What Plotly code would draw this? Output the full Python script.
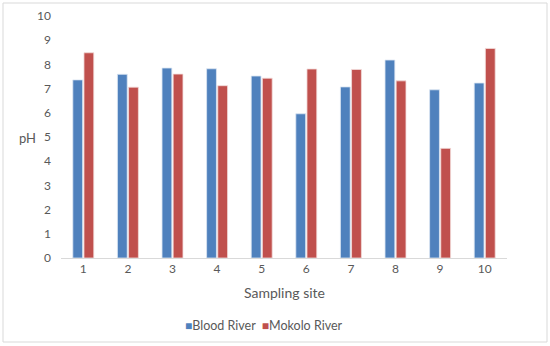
import plotly.graph_objects as go

sites = ["1", "2", "3", "4", "5", "6", "7", "8", "9", "10"]
blood_river = [7.36, 7.59, 7.85, 7.82, 7.52, 5.96, 7.07, 8.18, 6.95, 7.23]
mokolo_river = [8.48, 7.06, 7.60, 7.12, 7.43, 7.81, 7.79, 7.32, 4.53, 8.66]
y_ticks = list(range(0, 11))

blue, red = "#4F81BD", "#C0504D"
font_family = "Lato, Open Sans, Liberation Sans, sans-serif"
text_color = "#595959"

fig = go.Figure()
fig.add_trace(go.Bar(x=sites, y=blood_river, name="Blood River",
                     marker=dict(color=blue, line=dict(color="#dce6f2", width=0.8))))
fig.add_trace(go.Bar(x=sites, y=mokolo_river, name="Mokolo River",
                     marker=dict(color=red, line=dict(color="#f2dcdb", width=0.8))))

L, R, T, B = 61, 43, 16, 88
pw, ph = 550 - L - R, 346 - T - B

legend_text = (f'<span style="color:{blue};font-size:12px">■</span>Blood River  '
               f'<span style="color:{red};font-size:12px">■</span>Mokolo River')

fig.update_layout(
    width=550, height=346,
    margin=dict(l=L, r=R, t=T, b=B, autoexpand=False),
    paper_bgcolor="white", plot_bgcolor="white",
    barmode="group", bargap=0.5, bargroupgap=0.12,
    font=dict(family=font_family, color=text_color, size=12),
    showlegend=False,
    xaxis=dict(showgrid=False, showline=True, linecolor="#d9d9d9", linewidth=1,
               ticks="", automargin=False, tickfont=dict(size=12, color=text_color)),
    yaxis=dict(range=[0, 10], tickvals=y_ticks, showgrid=False, zeroline=False,
               showline=False, ticks="", ticklabelstandoff=9, automargin=False,
               tickfont=dict(size=12, color=text_color)),
    annotations=[
        dict(text="Sampling site", xref="paper", yref="paper", x=0.5, y=(258 - 292) / ph,
             xanchor="center", yanchor="middle", showarrow=False,
             font=dict(size=14, color=text_color)),
        dict(text="pH", xref="paper", yref="paper", x=(27 - L) / pw, y=(258 - 138) / ph,
             xanchor="center", yanchor="middle", showarrow=False,
             font=dict(size=13, color=text_color)),
        dict(text=legend_text, xref="paper", yref="paper", x=(264 - L) / pw, y=(258 - 325) / ph,
             xanchor="center", yanchor="middle", showarrow=False,
             font=dict(size=12.5, color=text_color)),
    ],
    shapes=[dict(type="rect", xref="paper", yref="paper",
                 x0=(3 - L) / pw, x1=(547 - L) / pw,
                 y0=(258 - 342) / ph, y1=(258 - 3) / ph,
                 line=dict(color="#d9d9d9", width=1), layer="below")],
)

fig.write_html("out.html", config={"displayModeBar": False},
               post_script="document.body.style.margin='0';")
